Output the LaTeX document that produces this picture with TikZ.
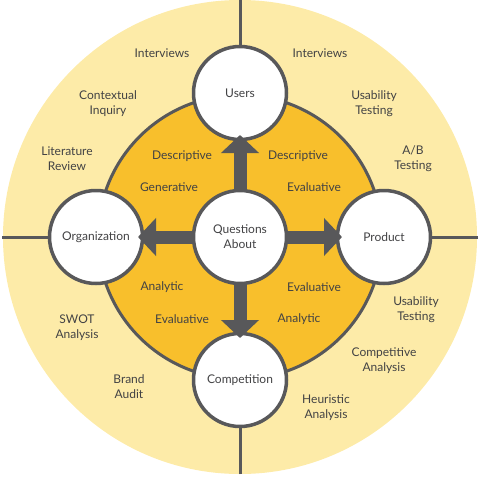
\documentclass[tikz,border=0pt]{standalone}
\usepackage{fontspec}
\setmainfont{Lato}
\usetikzlibrary{arrows.meta}
\definecolor{pale}{HTML}{FDEBA8}
\definecolor{orng}{HTML}{F8BF2C}
\definecolor{dgray}{HTML}{58585A}
\definecolor{txt}{HTML}{424244}
\begin{document}
\begin{tikzpicture}[x=1pt,y=-1pt,
  bubble/.style={circle, draw=dgray, line width=3.5pt, fill=white, minimum size=93pt, inner sep=0pt, outer sep=0pt, text=txt, font=\fontsize{12}{15}\selectfont, align=center},
  lbl/.style={text=txt, font=\fontsize{12}{15}\selectfont, align=center, inner sep=0pt},
  divider/.style={draw=dgray, line width=3pt},
  blockarrow/.style={draw=dgray, line width=13pt, -{Triangle[width=37pt,length=18pt]}, shorten >=-4.5pt}]
\useasboundingbox (0,0) rectangle (479,479);
\fill[pale] (240,237) circle[radius=237];
\coordinate (ctop) at (240,0);
\coordinate (cbot) at (240,474);
\coordinate (cleft) at (2,237);
\coordinate (cright) at (478,237);
\draw[dgray, line width=3pt, fill=orng] (240,237) circle[radius=142];
\node[bubble] (users) at (240,93) {Users};
\node[bubble] (org) at (96,237) {Organization};
\node[bubble] (prod) at (384,237) {Product};
\node[bubble] (comp) at (240,380) {Competition};
\node[bubble] (q) at (240,237) {Questions\\About};
\draw[divider] (ctop) -- (users);
\draw[divider] (cbot) -- (comp);
\draw[divider] (cleft) -- (org);
\draw[divider] (cright) -- (prod);
\draw[blockarrow] (q) -- (users);
\draw[blockarrow] (q) -- (org);
\draw[blockarrow] (q) -- (prod);
\draw[blockarrow] (q) -- (comp);
% inner labels
\node[lbl] (d1) at (182,156) {Descriptive};
\node[lbl] (g1) at (169,187) {Generative};
\node[lbl] (d2) at (298,156) {Descriptive};
\node[lbl] (e1) at (314,187) {Evaluative};
\node[lbl] (a1) at (162,287) {Analytic};
\node[lbl] (e2) at (182,319) {Evaluative};
\node[lbl] (e3) at (314,287) {Evaluative};
\node[lbl] (a2) at (299,319) {Analytic};
% outer labels
\node[lbl] (i1) at (162,53) {Interviews};
\node[lbl] (ci) at (108,104) {Contextual\\Inquiry};
\node[lbl] (lr) at (67,159) {Literature\\Review};
\node[lbl] (i2) at (320,53) {Interviews};
\node[lbl] (ut1) at (374,104) {Usability\\Testing};
\node[lbl] (ab) at (413,159) {A/B\\Testing};
\node[lbl] (ut2) at (416,310) {Usability\\Testing};
\node[lbl] (ca) at (384,361) {Competitive\\Analysis};
\node[lbl] (ha) at (326,408) {Heuristic\\Analysis};
\node[lbl] (sw) at (77,328) {SWOT\\Analysis};
\node[lbl] (ba) at (129,387) {Brand\\Audit};
\end{tikzpicture}
\end{document}
